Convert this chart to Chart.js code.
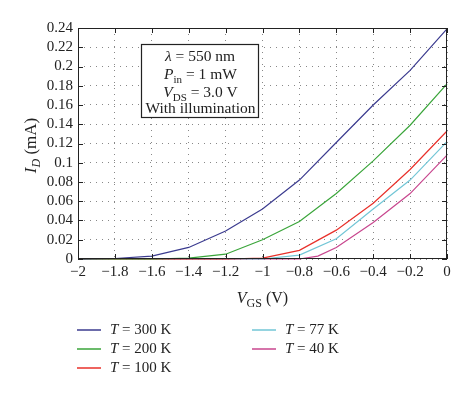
<!DOCTYPE html>
<html>
<head>
<meta charset="utf-8">
<script src="https://cdn.jsdelivr.net/npm/chart.js@4.4.0/dist/chart.umd.min.js"></script>
<style>
  html, body { margin: 0; padding: 0; background: #fff; }
  #wrap { width: 474px; height: 395px; position: relative; }
</style>
</head>
<body>
<div id="wrap"><canvas id="myChart" width="474" height="395"></canvas></div>
<script>
// V_GS (V) sample points
const vgs = [-2, -1.8, -1.6, -1.4, -1.2, -1, -0.8, -0.6, -0.4, -0.2, 0];
const vgs40 = [-2, -1.8, -1.6, -1.4, -1.2, -1, -0.8, -0.7, -0.6, -0.4, -0.2, 0];

// I_D (mA) per temperature
const id300 = [0, 0.0005, 0.003, 0.012, 0.029, 0.052, 0.082, 0.121, 0.160, 0.196, 0.239];
const id200 = [0, 0, 0, 0.001, 0.005, 0.020, 0.039, 0.068, 0.102, 0.139, 0.182];
const id100 = [0, 0, 0, 0, 0, 0.001, 0.009, 0.030, 0.058, 0.093, 0.133];
const id77 = [0, 0, 0, 0, 0, 0, 0.004, 0.021, 0.052, 0.082, 0.122];
const id40 = [0, 0, 0, 0, 0, 0, 0, 0.003, 0.012, 0.038, 0.068, 0.108];

const tempLabels = ['300', '200', '100', '77', '40'];
const colors = ['#3b3b8f', '#3aa53a', '#e8302a', '#72c6d6', '#c8468e'];
const annotation = ['λ = 550 nm', 'P_in = 1 mW', 'V_DS = 3.0 V', 'With illumination'];

const serif = '"Liberation Serif", "DejaVu Serif", serif';

function pts(xs, ys) {
    return xs.map((x, i) => ({ x: x, y: ys[i] }));
}

const seriesData = [pts(vgs, id300), pts(vgs, id200), pts(vgs, id100), pts(vgs, id77), pts(vgs40, id40)];

// draws main text + subscript + rest at (x, y) baseline, returns end x
function subText(ctx, main, sub, rest, x, y, size, italicMain, italicSub) {
    ctx.font = (italicMain ? 'italic ' : '') + size + 'px ' + serif;
    ctx.fillText(main, x, y);
    x += ctx.measureText(main).width;
    if (sub) {
        ctx.font = (italicSub ? 'italic ' : '') + Math.round(size * 0.72) + 'px ' + serif;
        ctx.fillText(sub, x, y + size * 0.25);
        x += ctx.measureText(sub).width;
    }
    if (rest) {
        ctx.font = size + 'px ' + serif;
        ctx.fillText(rest, x, y);
        x += ctx.measureText(rest).width;
    }
    return x;
}

function measureSub(ctx, main, sub, rest, size, italicMain, italicSub) {
    ctx.font = (italicMain ? 'italic ' : '') + size + 'px ' + serif;
    let w = ctx.measureText(main).width;
    ctx.font = (italicSub ? 'italic ' : '') + Math.round(size * 0.72) + 'px ' + serif;
    w += ctx.measureText(sub).width;
    ctx.font = size + 'px ' + serif;
    w += ctx.measureText(rest).width;
    return w;
}

const decorPlugin = {
    id: 'decor',
    afterDraw(chart) {
        const ctx = chart.ctx;
        const a = chart.chartArea;
        const xs = chart.scales.x, ys = chart.scales.y;
        ctx.save();
        ctx.fillStyle = '#222';
        ctx.strokeStyle = '#222';
        ctx.lineWidth = 1;

        // box
        ctx.strokeRect(a.left + 0.5, a.top + 0.5, a.right - a.left - 1, a.bottom - a.top - 1);
        // inward ticks on all sides
        ctx.beginPath();
        xs.ticks.forEach(t => {
            const px = Math.round(xs.getPixelForValue(t.value)) + 0.5;
            ctx.moveTo(px, a.bottom); ctx.lineTo(px, a.bottom - 5);
            ctx.moveTo(px, a.top); ctx.lineTo(px, a.top + 5);
        });
        ys.ticks.forEach(t => {
            const py = Math.round(ys.getPixelForValue(t.value)) + 0.5;
            ctx.moveTo(a.left, py); ctx.lineTo(a.left + 5, py);
            ctx.moveTo(a.right, py); ctx.lineTo(a.right - 5, py);
        });
        ctx.stroke();

        // annotation box
        const bx = 141, by = 44, bw = 117, bh = 73;
        ctx.fillStyle = '#fff';
        ctx.fillRect(bx, by, bw, bh);
        ctx.lineWidth = 1.2;
        ctx.strokeRect(bx + 0.5, by + 0.5, bw, bh);
        ctx.fillStyle = '#222';
        ctx.textBaseline = 'alphabetic';
        const cx = bx + bw / 2 + 1;
        const fs = 15.5;
        // line 1
        ctx.font = fs + 'px ' + serif;
        let w = ctx.measureText(annotation[0]).width;
        ctx.font = 'italic ' + fs + 'px ' + serif;
        ctx.fillText('λ', cx - w / 2, 61);
        let lw = ctx.measureText('λ').width;
        ctx.font = fs + 'px ' + serif;
        ctx.fillText(annotation[0].slice(1), cx - w / 2 + lw, 61);
        // line 2
        w = measureSub(ctx, 'P', 'in', ' = 1 mW', fs, true);
        subText(ctx, 'P', 'in', ' = 1 mW', cx - w / 2, 79, fs, true);
        // line 3
        w = measureSub(ctx, 'V', 'DS', ' = 3.0 V', fs, true);
        subText(ctx, 'V', 'DS', ' = 3.0 V', cx - w / 2, 97, fs, true);
        // line 4
        ctx.font = fs + 'px ' + serif;
        w = ctx.measureText(annotation[3]).width;
        ctx.fillText(annotation[3], cx - w / 2, 113);

        // x axis title
        w = measureSub(ctx, 'V', 'GS', ' (V)', 16, true);
        subText(ctx, 'V', 'GS', ' (V)', (a.left + a.right) / 2 - w / 2, 303, 16, true);

        // y axis title
        ctx.save();
        ctx.translate(36, (a.top + a.bottom) / 2 + 2);
        ctx.rotate(-Math.PI / 2);
        w = measureSub(ctx, 'I', 'D', ' (mA)', 17, true, true);
        subText(ctx, 'I', 'D', ' (mA)', -w / 2, 0, 17, true, true);
        ctx.restore();

        // legend, two columns
        const pos = [[77, 330], [77, 349], [77, 368], [252, 330], [252, 349]];
        ctx.textBaseline = 'middle';
        tempLabels.forEach((t, i) => {
            const [lx, ly] = pos[i];
            ctx.strokeStyle = colors[i];
            ctx.lineWidth = 1.5;
            ctx.beginPath();
            ctx.moveTo(lx, ly); ctx.lineTo(lx + 24, ly);
            ctx.stroke();
            ctx.font = 'italic 15px ' + serif;
            ctx.fillText('T', lx + 33, ly);
            const tw = ctx.measureText('T').width;
            ctx.font = '15px ' + serif;
            ctx.fillText(' = ' + t + ' K', lx + 33 + tw, ly);
        });
        ctx.restore();
    }
};

const ctx = document.getElementById('myChart').getContext('2d');
const chart = new Chart(ctx, {
    type: 'line',
    data: {
        datasets: seriesData.map((d, i) => ({
            label: 'T = ' + tempLabels[i] + ' K',
            data: d,
            borderColor: colors[i],
            backgroundColor: colors[i],
            borderWidth: 1.2,
            pointRadius: 0,
            tension: 0,
            fill: false,
            clip: 3
        }))
    },
    options: {
        responsive: false,
        animation: false,
        layout: { padding: { top: 28, right: 27, left: 0, bottom: 0 } },
        plugins: {
            legend: { display: false },
            tooltip: { enabled: false }
        },
        scales: {
            x: {
                type: 'linear',
                min: -2,
                max: 0,
                afterFit: s => { s.height = 136; },
                ticks: {
                    stepSize: 0.2,
                    autoSkip: false,
                    color: '#222',
                    font: { family: serif, size: 15 },
                    maxRotation: 0,
                    padding: 4,
                    callback: v => {
                        const r = Math.round(v * 10) / 10;
                        return r < 0 ? '\u2212' + String(-r) : String(r);
                    }
                },
                grid: {
                    color: '#888',
                    lineWidth: 1,
                    drawTicks: false
                },
                border: { display: false, dash: [1, 5] }
            },
            y: {
                min: 0,
                max: 0.24,
                afterFit: s => { s.width = 78; },
                ticks: {
                    stepSize: 0.02,
                    autoSkip: false,
                    color: '#222',
                    font: { family: serif, size: 15 },
                    padding: 5,
                    callback: v => String(Math.round(v * 100) / 100)
                },
                grid: {
                    color: '#888',
                    lineWidth: 1,
                    drawTicks: false
                },
                border: { display: false, dash: [1, 5] }
            }
        }
    },
    plugins: [decorPlugin]
});
</script>
</body>
</html>
